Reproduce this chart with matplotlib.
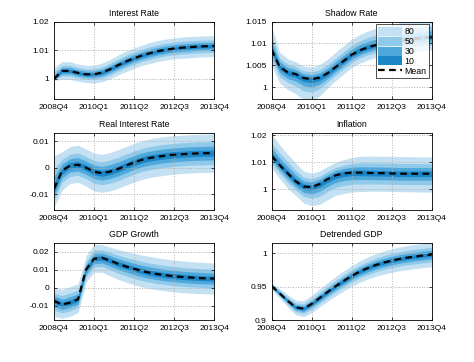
import matplotlib
matplotlib.use("Agg")
import matplotlib.pyplot as plt
from matplotlib.patches import Patch
from matplotlib.lines import Line2D
import numpy as np

plt.rcParams['font.family'] = ['Liberation Sans', 'DejaVu Sans']
plt.rcParams['axes.unicode_minus'] = False

quarters = ["2008Q4", "2010Q1", "2011Q2", "2012Q3", "2013Q4"]
n_q = 21
tick_idx = [0, 5, 10, 15, 20]

titles = ["Interest Rate", "Shadow Rate", "Real Interest Rate", "Inflation",
          "GDP Growth", "Detrended GDP"]

# mean path and 80% band edges
ir_mean = [1.0000, 1.0028, 1.0028, 1.0021, 1.0016, 1.0016, 1.0022, 1.0034, 1.0048, 1.0061, 1.0072,
           1.0082, 1.0090, 1.0097, 1.0102, 1.0106, 1.0109, 1.0111, 1.0113, 1.0114, 1.0115]
ir_hi = [1.0040, 1.0060, 1.0060, 1.0052, 1.0047, 1.0048, 1.0055, 1.0068, 1.0083, 1.0097, 1.0108,
         1.0118, 1.0127, 1.0134, 1.0139, 1.0143, 1.0146, 1.0148, 1.0149, 1.0150, 1.0151]
ir_lo = [0.9995, 0.9998, 0.9998, 0.9992, 0.9987, 0.9986, 0.9990, 1.0001, 1.0014, 1.0026, 1.0037,
         1.0047, 1.0054, 1.0061, 1.0066, 1.0070, 1.0072, 1.0074, 1.0076, 1.0077, 1.0078]

sr_mean = [1.0086, 1.0047, 1.0034, 1.0030, 1.0021, 1.0018, 1.0022, 1.0032, 1.0046, 1.0060, 1.0074,
           1.0084, 1.0091, 1.0096, 1.0100, 1.0104, 1.0107, 1.0109, 1.0111, 1.0113, 1.0114]
sr_hi = [1.0140, 1.0080, 1.0065, 1.0058, 1.0048, 1.0046, 1.0052, 1.0064, 1.0080, 1.0095, 1.0110,
         1.0120, 1.0128, 1.0134, 1.0139, 1.0143, 1.0147, 1.0150, 1.0152, 1.0154, 1.0156]
sr_lo = [1.0050, 1.0010, 0.9995, 0.9985, 0.9972, 0.9968, 0.9980, 0.9998, 1.0015, 1.0030, 1.0045,
         1.0055, 1.0062, 1.0068, 1.0072, 1.0075, 1.0078, 1.0080, 1.0082, 1.0084, 1.0085]

rr_mean = [-0.0080, -0.0012, 0.0008, 0.0011, 0.0000, -0.0015, -0.0021, -0.0015, -0.0005, 0.0008, 0.0020,
           0.0030, 0.0037, 0.0042, 0.0046, 0.0049, 0.0051, 0.0053, 0.0054, 0.0055, 0.0055]
rr_hi = [0.0045, 0.0060, 0.0080, 0.0085, 0.0070, 0.0055, 0.0050, 0.0058, 0.0068, 0.0080, 0.0092,
         0.0102, 0.0109, 0.0114, 0.0118, 0.0121, 0.0123, 0.0125, 0.0126, 0.0127, 0.0128]
rr_lo = [-0.0150, -0.0085, -0.0060, -0.0055, -0.0070, -0.0088, -0.0093, -0.0088, -0.0078, -0.0066, -0.0054,
         -0.0044, -0.0037, -0.0032, -0.0028, -0.0025, -0.0022, -0.0020, -0.0019, -0.0018, -0.0017]

inf_mean = [1.0124, 1.0090, 1.0060, 1.0030, 1.0011, 1.0008, 1.0020, 1.0038, 1.0052, 1.0059, 1.0062,
            1.0062, 1.0061, 1.0060, 1.0060, 1.0059, 1.0058, 1.0058, 1.0058, 1.0058, 1.0058]
inf_hi = [1.0205, 1.0165, 1.0130, 1.0098, 1.0068, 1.0060, 1.0068, 1.0085, 1.0100, 1.0110, 1.0118,
          1.0122, 1.0123, 1.0123, 1.0122, 1.0122, 1.0121, 1.0121, 1.0120, 1.0120, 1.0120]
inf_lo = [1.0080, 1.0040, 1.0005, 0.9978, 0.9950, 0.9940, 0.9945, 0.9962, 0.9978, 0.9985, 0.9990,
          0.9992, 0.9993, 0.9993, 0.9993, 0.9992, 0.9992, 0.9991, 0.9991, 0.9990, 0.9990]

gdp_mean = [-0.0073, -0.0095, -0.0083, -0.0065, 0.0100, 0.0160, 0.0165, 0.0150, 0.0132, 0.0117, 0.0104,
            0.0092, 0.0082, 0.0074, 0.0068, 0.0063, 0.0059, 0.0056, 0.0053, 0.0051, 0.0050]
gdp_hi = [0.0000, -0.0010, 0.0005, 0.0020, 0.0175, 0.0240, 0.0238, 0.0225, 0.0212, 0.0200, 0.0190,
          0.0180, 0.0172, 0.0165, 0.0158, 0.0153, 0.0148, 0.0144, 0.0141, 0.0138, 0.0136]
gdp_lo = [-0.0160, -0.0170, -0.0160, -0.0140, 0.0030, 0.0085, 0.0085, 0.0065, 0.0045, 0.0030, 0.0015,
          0.0003, -0.0006, -0.0013, -0.0019, -0.0024, -0.0028, -0.0031, -0.0033, -0.0035, -0.0036]

dg_mean = [0.9510, 0.9400, 0.9290, 0.9190, 0.9170, 0.9240, 0.9330, 0.9420, 0.9505, 0.9585, 0.9660,
           0.9725, 0.9778, 0.9823, 0.9860, 0.9890, 0.9915, 0.9935, 0.9952, 0.9967, 0.9980]
dg_hi = [0.9560, 0.9470, 0.9380, 0.9300, 0.9290, 0.9370, 0.9465, 0.9560, 0.9650, 0.9735, 0.9815,
         0.9885, 0.9943, 0.9992, 1.0033, 1.0066, 1.0093, 1.0115, 1.0133, 1.0149, 1.0162]
dg_lo = [0.9460, 0.9330, 0.9200, 0.9080, 0.9050, 0.9110, 0.9195, 0.9280, 0.9360, 0.9435, 0.9505,
         0.9565, 0.9613, 0.9654, 0.9687, 0.9714, 0.9737, 0.9755, 0.9771, 0.9785, 0.9798]

band_labels = ["80", "50", "30", "10"]
band_frac = [1.0, 0.6, 0.36, 0.16]   # share of the 80% band width
band_colors = ["#c3e1f3", "#8fcaea", "#4ea8db", "#1a86c8"]

panels = [(ir_mean, ir_lo, ir_hi), (sr_mean, sr_lo, sr_hi), (rr_mean, rr_lo, rr_hi),
          (inf_mean, inf_lo, inf_hi), (gdp_mean, gdp_lo, gdp_hi), (dg_mean, dg_lo, dg_hi)]
ylims = [(0.993, 1.02), (0.9973, 1.015), (-0.016, 0.0133), (0.9924, 1.021),
         (-0.018, 0.025), (0.9, 1.016)]
yticks = [[1, 1.01, 1.02], [1, 1.005, 1.01, 1.015], [-0.01, 0, 0.01], [1, 1.01, 1.02],
          [-0.01, 0, 0.01, 0.02], [0.9, 0.95, 1]]

fig = plt.figure(figsize=(4.74, 3.62), dpi=100)
lefts = [0.1139, 0.5728]
bottoms = [0.7265, 0.4199, 0.1160]
w, h = 0.338, 0.2140

x = np.arange(n_q)
for i, (mean, lo, hi) in enumerate(panels):
    ax = fig.add_axes([lefts[i % 2], bottoms[i // 2], w, h])
    mean = np.array(mean)
    lo = np.array(lo)
    hi = np.array(hi)
    for frac, col in zip(band_frac, band_colors):
        ax.fill_between(x, mean - frac * (mean - lo), mean + frac * (hi - mean),
                        color=col, lw=0)
    ax.plot(x, mean, color="black", lw=1.6, ls=(0, (3, 2)))
    ax.set_xlim(0, n_q - 1)
    ax.set_ylim(*ylims[i])
    ax.set_xticks(tick_idx)
    ax.set_xticklabels(quarters)
    ax.set_yticks(yticks[i])
    ax.set_yticklabels(["%g" % v for v in yticks[i]])
    ax.grid(True, ls=":", color="#b0b0b0", lw=0.7)
    ax.tick_params(direction="in", length=2.5, width=0.5, labelsize=6,
                   top=True, right=True, pad=3.5)
    for s in ax.spines.values():
        s.set_linewidth(0.6)
    ax.set_title(titles[i], fontsize=6.3, pad=4)
    if i == 1:
        handles = [Patch(facecolor=c, edgecolor="none") for c in band_colors]
        handles.append(Line2D([0], [0], color="black", lw=1.6, ls=(0, (3, 2))))
        leg = ax.legend(handles, band_labels + ["Mean"], loc="upper right",
                        fontsize=6.3, frameon=True, fancybox=False, edgecolor="black",
                        borderpad=0.3, handlelength=2.7, handleheight=1.2,
                        handletextpad=0.3, labelspacing=0.05, borderaxespad=0.3)
        leg.get_frame().set_linewidth(0.6)

fig.savefig("out.png", dpi=100)
